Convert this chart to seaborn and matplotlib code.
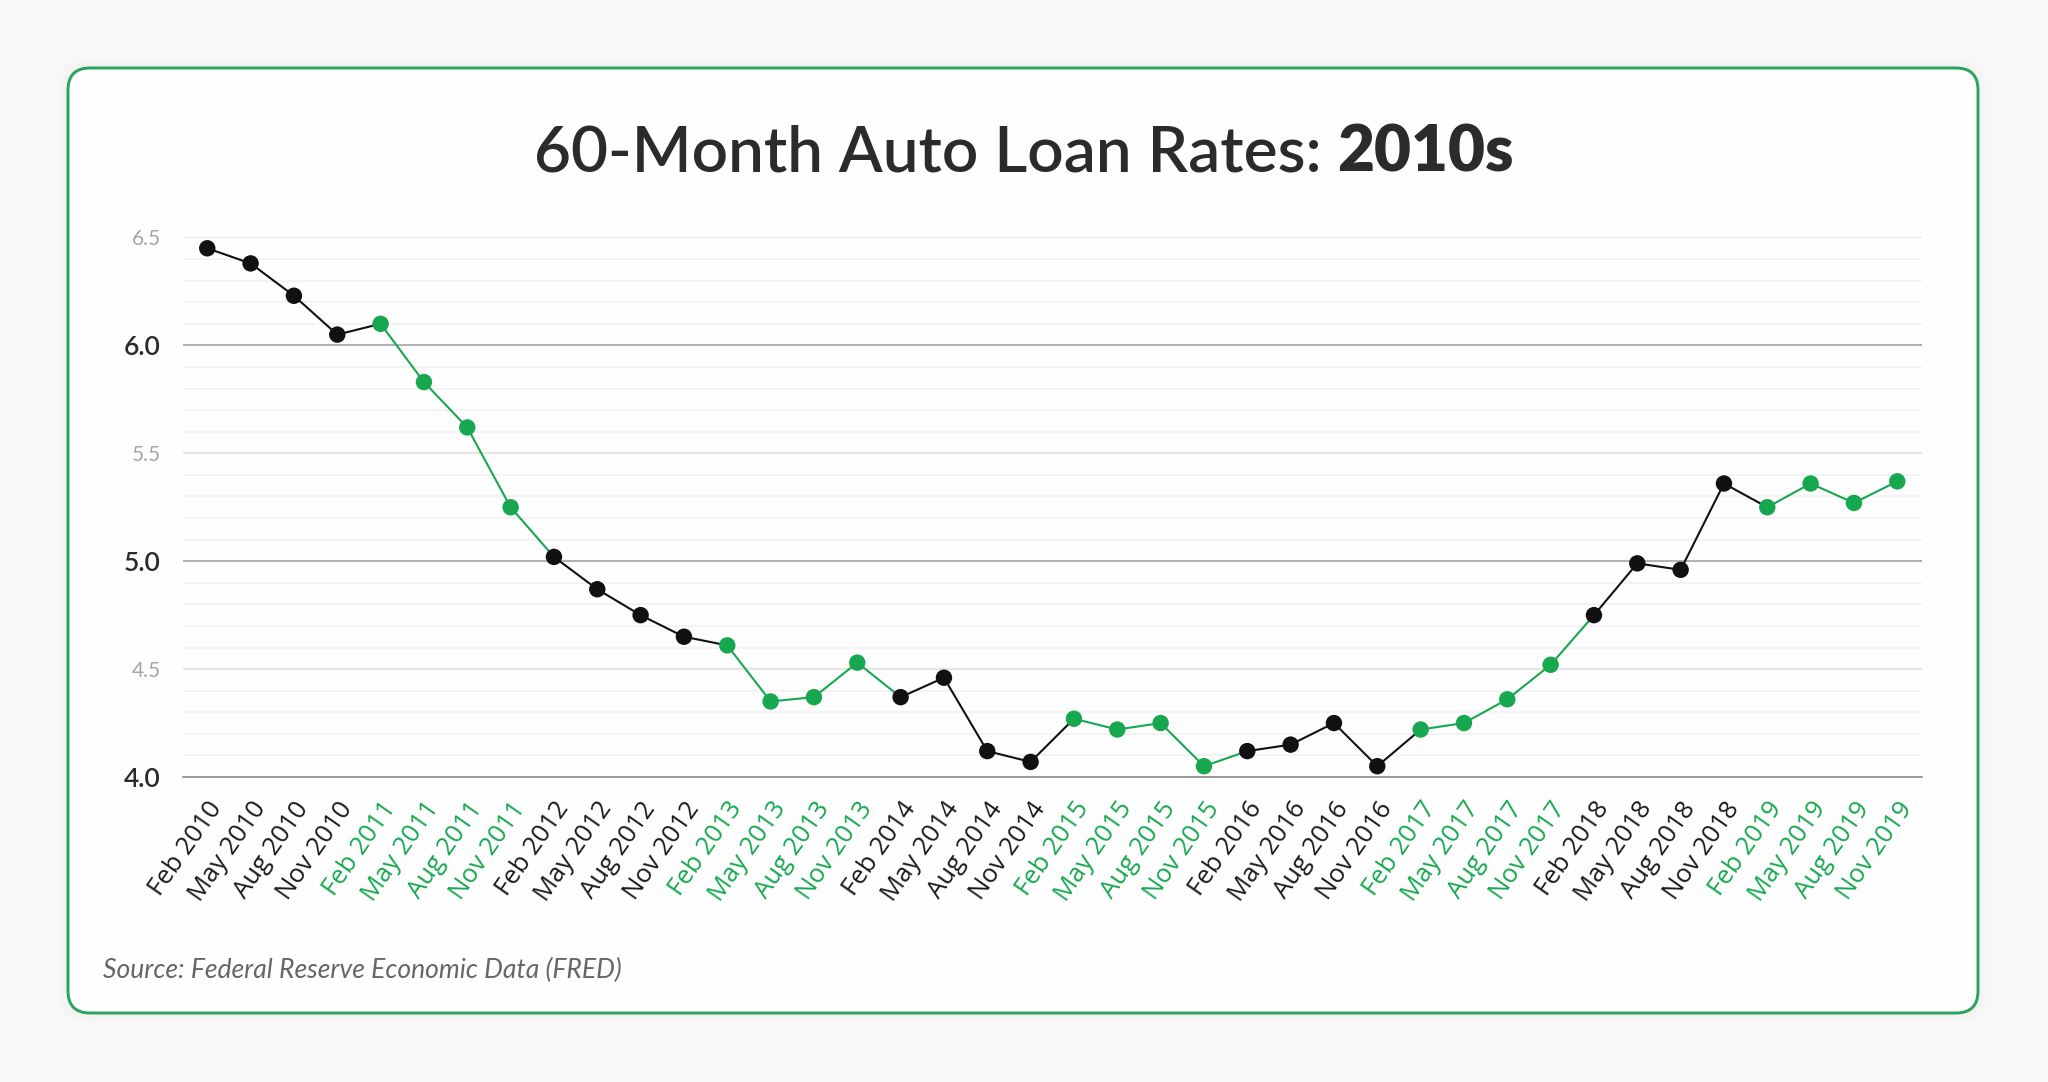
import matplotlib
matplotlib.use("Agg")
import matplotlib.pyplot as plt
import matplotlib.transforms as mtransforms
from matplotlib.patches import FancyBboxPatch
from matplotlib.ticker import FixedLocator, MultipleLocator
import numpy as np
import pandas as pd
import seaborn as sns

# ---------------- data ----------------
labels = [
    "Feb 2010", "May 2010", "Aug 2010", "Nov 2010",
    "Feb 2011", "May 2011", "Aug 2011", "Nov 2011",
    "Feb 2012", "May 2012", "Aug 2012", "Nov 2012",
    "Feb 2013", "May 2013", "Aug 2013", "Nov 2013",
    "Feb 2014", "May 2014", "Aug 2014", "Nov 2014",
    "Feb 2015", "May 2015", "Aug 2015", "Nov 2015",
    "Feb 2016", "May 2016", "Aug 2016", "Nov 2016",
    "Feb 2017", "May 2017", "Aug 2017", "Nov 2017",
    "Feb 2018", "May 2018", "Aug 2018", "Nov 2018",
    "Feb 2019", "May 2019", "Aug 2019", "Nov 2019",
]
rates = [
    6.45, 6.38, 6.23, 6.05,
    6.10, 5.83, 5.62, 5.25,
    5.02, 4.87, 4.75, 4.65,
    4.61, 4.35, 4.37, 4.53,
    4.37, 4.46, 4.12, 4.07,
    4.27, 4.22, 4.25, 4.05,
    4.12, 4.15, 4.25, 4.05,
    4.22, 4.25, 4.36, 4.52,
    4.75, 4.99, 4.96, 5.36,
    5.25, 5.36, 5.27, 5.37,
]
years = [int(l.split()[1]) for l in labels]
y_ticks = [4.0, 4.5, 5.0, 5.5, 6.0, 6.5]
title_main = "60-Month Auto Loan Rates:"
title_bold = "2010s"
source_text = "Source: Federal Reserve Economic Data (FRED)"

GREEN = "#17a84f"
BLACK = "#111111"
BORDER = "#2aa35c"

def year_color(y):
    return GREEN if (y - 2010) % 2 == 1 else BLACK

df = pd.DataFrame({"idx": np.arange(len(rates)), "rate": rates, "year": years})
df["grp"] = df["year"].map(lambda y: "g" if (y - 2010) % 2 else "k")

# segments: each year's points plus the following point, coloured by that year
seg_rows = []
for yr in sorted(set(years)):
    ids = list(df.index[df["year"] == yr])
    if ids[-1] + 1 < len(df):
        ids.append(ids[-1] + 1)
    for i in ids:
        seg_rows.append({"idx": df.loc[i, "idx"], "rate": df.loc[i, "rate"], "seg": str(yr)})
seg_df = pd.DataFrame(seg_rows)
seg_palette = {str(yr): year_color(yr) for yr in set(years)}

# ---------------- style ----------------
sns.set_theme(style="white")
plt.rcParams["font.family"] = ["Lato", "DejaVu Sans"]

W, H = 2048, 1082
fig = plt.figure(figsize=(W / 100, H / 100), dpi=100)
fig.patch.set_facecolor("#f8f8f8")

# rounded card
ident = mtransforms.IdentityTransform()
for k, (pad, a) in enumerate([(10, 0.25), (6, 0.35), (3, 0.5)]):
    sh = FancyBboxPatch((68 - pad, H - 1013 - pad), 1910 + 2 * pad, 945 + 2 * pad,
                        boxstyle=f"round,pad=0,rounding_size={22 + pad}",
                        transform=ident, facecolor="#f2f2f2", edgecolor="none",
                        alpha=a, zorder=0)
    fig.add_artist(sh)
card = FancyBboxPatch((68, H - 1013), 1910, 945,
                      boxstyle="round,pad=0,rounding_size=22",
                      transform=ident, facecolor="#fefefe", edgecolor=BORDER,
                      linewidth=2.1, zorder=1)
fig.add_artist(card)

ax = fig.add_axes([183 / W, 1 - 777 / H, (1922 - 183) / W, (777 - 237.5) / H])
ax.set_facecolor("none")
ax.set_zorder(2)

sns.lineplot(data=seg_df, x="idx", y="rate", hue="seg", palette=seg_palette,
             units="seg", estimator=None, sort=False, linewidth=1.5,
             legend=False, ax=ax, zorder=3)
sns.scatterplot(data=df, x="idx", y="rate", hue="grp",
                palette={"g": GREEN, "k": BLACK}, s=140, edgecolor="none",
                linewidth=0, legend=False, ax=ax, zorder=4, clip_on=False)

ax.set_xlim(-0.56, 39.57)
ax.set_ylim(4.0, 6.5)
ax.set_xlabel("")
ax.set_ylabel("")

# grid
ax.yaxis.set_major_locator(FixedLocator(y_ticks))
ax.yaxis.set_minor_locator(MultipleLocator(0.1))
ax.grid(False)
ax.grid(axis="y", which="minor", color="#f1f1f1", linewidth=1.2, zorder=0)
ax.grid(axis="y", which="major", color="#e6e6e6", linewidth=1.6, zorder=0)
for v in y_ticks:
    if abs(v - round(v)) < 1e-9 and v > 4.0:
        ax.axhline(v, color="#a8a8a8", linewidth=1.2, zorder=1)
ax.set_axisbelow(True)

for s in ["top", "right", "left"]:
    ax.spines[s].set_visible(False)
ax.spines["bottom"].set_color("#8a8a8a")
ax.spines["bottom"].set_linewidth(1.2)

# y tick labels
ax.set_yticks(y_ticks)
ax.set_yticklabels([f"{v:.1f}" for v in y_ticks])
ax.tick_params(axis="y", which="both", length=0, pad=16)
for v, t in zip(y_ticks, ax.get_yticklabels()):
    if abs(v - round(v)) < 1e-9:
        t.set_color("#2b2b2b"); t.set_fontsize(19); t.set_fontweight("semibold")
    else:
        t.set_color("#a5a5a5"); t.set_fontsize(15)

# x ticks
ax.set_xticks(range(len(labels)))
ax.set_xticklabels(labels, rotation=55, ha="right", va="top",
                   rotation_mode="anchor", fontsize=18.5, fontweight="medium",
                   family=["Open Sans", "DejaVu Sans"])
ax.xaxis.set_minor_locator(FixedLocator(list(range(len(labels)))))
ax.xaxis.remove_overlapping_locs = False
ax.tick_params(axis="x", which="major", direction="out", length=11.5, width=1.0, pad=3)
ax.tick_params(axis="x", which="minor", direction="in", length=5.8, width=1.0)
for yr, t in zip(years, ax.get_xticklabels()):
    t.set_color(GREEN if year_color(yr) == GREEN else "#1a1a1a")
for yr, tk in zip(years, ax.xaxis.get_major_ticks()):
    tk.tick1line.set_color(GREEN if year_color(yr) == GREEN else "#8a8a8a")
for yr, tk in zip(years, ax.xaxis.get_minor_ticks()):
    tk.tick1line.set_color(GREEN if year_color(yr) == GREEN else "#8a8a8a")

# title (mixed weights)
ty = 1 - 172 / H
t1 = fig.text(0, ty, title_main, fontsize=46, fontweight="semibold", color="#2b2b2b",
              va="baseline", ha="left", family=["Lato", "DejaVu Sans"])
t2 = fig.text(0, ty, title_bold, fontsize=46, fontweight="heavy", color="#2b2b2b",
              va="baseline", ha="left", family=["Lato", "DejaVu Sans"])
fig.canvas.draw()
r = fig.canvas.get_renderer()
w1 = t1.get_window_extent(r).width
w2 = t2.get_window_extent(r).width
gap = 0.24 * 46 * 100 / 72
total = w1 + gap + w2
x0 = W / 2 - total / 2
t1.set_x(x0 / W)
t2.set_x((x0 + w1 + gap) / W)

fig.text(103 / W, 1 - 978 / H, source_text, fontsize=19.1, style="italic",
         color="#666666", va="baseline", ha="left", family=["Lato", "DejaVu Sans"])

fig.savefig("out.png", dpi=100, facecolor=fig.get_facecolor())
